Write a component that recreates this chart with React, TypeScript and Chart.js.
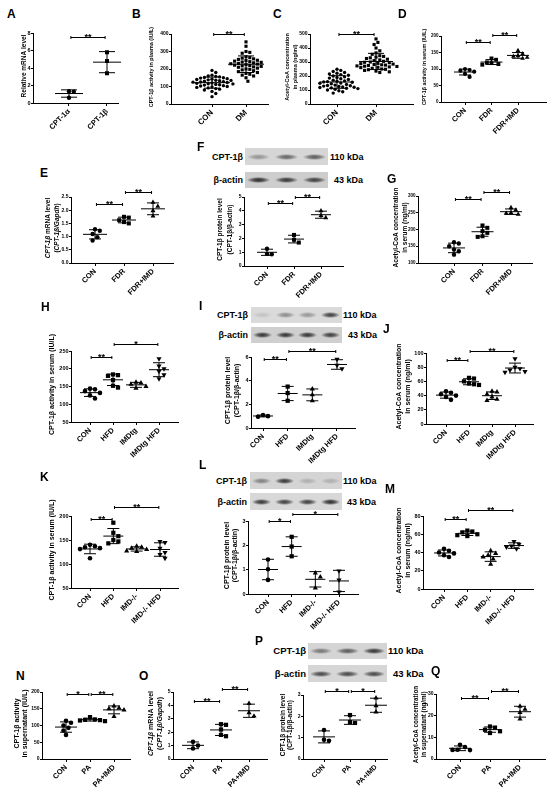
import { useEffect, useRef } from 'react';
import { Chart, registerables } from 'chart.js';

Chart.register(...registerables);

const FONT = '"Liberation Sans", Arial, sans-serif';
Chart.defaults.font.family = FONT;
Chart.defaults.color = '#000';

// ---------- data ----------
const A_LABELS = ['CPT-1α', 'CPT-1β'];
const A_VALUES = [[1.35, 1.3, 0.6], [5.8, 4.8, 3.4]];
const A_SIG = [[0, 1, 7.6, '**']];

const B_LABELS = ['CON', 'DM'];
const B_VALUES = [
  [192, 180, 165, 160, 158, 155, 152, 150, 148, 145, 142, 140, 138, 136, 135, 133, 130, 128, 126, 125,
    123, 120, 118, 116, 115, 112, 110, 108, 105, 103, 100, 97, 95, 92, 88, 85, 80, 72, 60, 42],
  [355, 330, 300, 295, 290, 270, 265, 262, 258, 255, 250, 248, 245, 242, 240, 238, 235, 232, 230, 228,
    225, 222, 220, 218, 215, 212, 210, 205, 200, 198, 195, 190, 185, 180, 175, 170, 165, 160, 150, 130],
];
const B_SIG = [[0, 1, 400, '**']];

const C_LABELS = ['CON', 'DM'];
const C_VALUES = [
  [248, 240, 232, 225, 220, 215, 210, 205, 200, 195, 190, 185, 180, 175, 170, 165, 162, 160, 158, 155,
    150, 148, 145, 140, 135, 132, 130, 128, 125, 122, 120, 118, 115, 112, 110, 105, 100, 95, 88, 78],
  [465, 440, 425, 400, 380, 365, 355, 345, 340, 335, 330, 325, 320, 315, 310, 305, 300, 298, 295, 290,
    288, 285, 282, 280, 278, 275, 272, 270, 268, 265, 262, 260, 255, 250, 248, 245, 240, 235, 230, 225],
];
const C_SIG = [[0, 1, 500, '**']];

const D_LABELS = ['CON', 'FDR', 'FDR+IMD'];
const D_VALUES = [[100, 97, 95, 92, 85, 76], [132, 128, 120, 118, 115, 113], [156, 146, 140, 138, 135, 132]];
const D_SIG = [[0, 1, 182, '**'], [1, 2, 203, '**']];

const E_LABELS = ['CON', 'FDR', 'FDR+IMD'];
const E_VALUES = [[1.28, 1.22, 1.1, 0.98, 0.85], [1.75, 1.72, 1.62, 1.55, 1.5], [2.3, 2.15, 1.98, 1.78]];
const E_SIG = [[0, 1, 2.23, '**'], [1, 2, 2.69, '**']];

const F_LABELS = ['CON', 'FDR', 'FDR+IMD'];
const F_VALUES = [[1.25, 0.88, 0.85], [2.25, 1.9, 1.7], [4.0, 3.65, 3.5]];
const F_SIG = [[0, 1, 4.57, '**'], [1, 2, 5.0, '**']];

const G_LABELS = ['CON', 'FDR', 'FDR+IMD'];
const G_VALUES = [[162, 158, 150, 140, 135, 125], [212, 205, 195, 190, 180, 178], [265, 258, 250, 248, 245]];
const G_SIG = [[0, 1, 291, '**'], [1, 2, 312, '**']];

const H_LABELS = ['CON', 'HFD', 'IMDtg', 'IMDtg HFD'];
const H_VALUES = [[144, 142, 137, 132, 125, 116], [184, 182, 180, 168, 152, 147], [162, 160, 156, 150, 145], [228, 208, 200, 193, 183, 172]];
const H_SIG = [[0, 1, 233, '**'], [1, 3, 270, '*']];

const I_LABELS = ['CON', 'HFD', 'IMDtg', 'IMDtg HFD'];
const I_VALUES = [[1.1, 1.0, 0.95], [3.5, 2.95, 2.3], [3.3, 2.8, 2.3], [5.8, 5.3, 5.0]];
const I_SIG = [[0, 1, 5.83, '**'], [1, 3, 6.5, '**']];

const J_LABELS = ['CON', 'HFD', 'IMDtg', 'IMDtg HFD'];
const J_VALUES = [[46, 44, 42, 40, 38, 34], [65, 64, 60, 57, 56, 55], [46, 45, 42, 38, 35, 33], [92, 80, 78, 76, 74, 73]];
const J_SIG = [[0, 1, 90, '**'], [1, 3, 103, '**']];

const K_LABELS = ['CON', 'HFD', 'IMD-/-', 'IMD-/- HFD'];
const K_VALUES = [[140, 137, 135, 133, 131, 112], [186, 165, 158, 150, 147, 143], [137, 135, 133, 130, 127, 126], [147, 145, 133, 124, 120, 112]];
const K_SIG = [[0, 1, 194, '**'], [1, 3, 219, '**']];

const L_LABELS = ['CON', 'HFD', 'IMD-/-', 'IMD-/- HFD'];
const L_VALUES = [[1.42, 1.02, 0.58], [2.35, 1.95, 1.55], [0.86, 0.7, 0.25], [0.95, 0.58, 0.08]];
const L_SIG = [[0, 1, 3.0, '*'], [1, 3, 3.3, '*']];

const M_LABELS = ['CON', 'HFD', 'IMD-/-', 'IMD-/- HFD'];
const M_VALUES = [[44, 42, 40, 39, 37, 35], [64, 63, 62, 60, 59, 58], [42, 39, 37, 35, 33, 27], [52, 49, 47, 46, 44]];
const M_SIG = [[0, 1, 76.7, '**'], [1, 3, 86.6, '**']];

const N_LABELS = ['CON', 'PA', 'PA+IMD'];
const N_VALUES = [[114, 108, 100, 93, 85, 72], [125, 118, 117, 116, 115, 113], [158, 152, 150, 146, 127]];
const N_SIG = [[0, 1, 194, '*'], [1, 2, 194, '**']];

const O_LABELS = ['CON', 'PA', 'PA+IMD'];
const O_VALUES = [[1.28, 1.0, 0.78], [2.6, 2.55, 2.2, 1.8, 1.7], [4.15, 3.45, 3.2]];
const O_SIG = [[0, 1, 4.33, '**'], [1, 2, 5.2, '**']];

const P_LABELS = ['CON', 'PA', 'PA+IMD'];
const P_VALUES = [[1.36, 0.9, 0.85], [2.06, 1.73, 1.69], [2.86, 2.5, 2.2]];
const P_SIG = [[0, 1, 3.19, '*'], [1, 2, 3.19, '*']];

const Q_LABELS = ['CON', 'PA', 'PA+IMD'];
const Q_VALUES = [[6.6, 5.5, 4.3, 4.2, 4.1], [15, 14.5, 13.5, 12.8, 12], [24.3, 23, 21.5, 18.5]];
const Q_SIG = [[0, 1, 28.2, '**'], [1, 2, 31.4, '**']];

// ---------- layout ----------
type Seg = string | { i: string };
type PanelCfg = {
  letter: string; lx: number; ly: number;
  labels: string[]; values: number[][]; sig: any[];
  x0: number; x1: number; yTop: number; yBot: number; c0: number; c1: number;
  yMin: number; yMax: number; yStep: number; dec?: number;
  title: Seg[][]; tx: number[]; ts: number;
  r: number; mh: number; ch: number; fs: number; ls: number;
};

const T_ACT_SERUM: Seg[][] = [['CPT-1β activity in serum (IU/L)']];
const T_PROT: Seg[][] = [['CPT-1β protein level'], ['(CPT-1β/β-actin)']];
const T_MRNA: Seg[][] = [[{ i: 'CPT-1β' }, ' mRNA level'], ['(', { i: 'CPT-1β/Gapdh' }, ')']];
const T_ACoA_SERUM: Seg[][] = [['Acetyl-CoA concentration'], ['in serum (ng/ml)']];

const PANELS: PanelCfg[] = [
  { letter: 'A', lx: 7, ly: 8, labels: A_LABELS, values: A_VALUES, sig: A_SIG, x0: 33, x1: 118, yTop: 33, yBot: 103, c0: 69, c1: 107,
    yMin: 0, yMax: 8, yStep: 2, title: [['Relative mRNA level']], tx: [24], ts: 6.5, r: 2.2, mh: 14, ch: 8, fs: 5.5, ls: 7.5 },
  { letter: 'B', lx: 132, ly: 8, labels: B_LABELS, values: B_VALUES, sig: B_SIG, x0: 171, x1: 268, yTop: 34, yBot: 104, c0: 212, c1: 246,
    yMin: 0, yMax: 400, yStep: 100, title: [['CPT-1β activity in plasma (IU/L)']], tx: [152], ts: 5.4, r: 1.7, mh: 18, ch: 8, fs: 5, ls: 8 },
  { letter: 'C', lx: 273, ly: 8, labels: C_LABELS, values: C_VALUES, sig: C_SIG, x0: 310, x1: 413, yTop: 34, yBot: 104, c0: 337, c1: 376,
    yMin: 0, yMax: 500, yStep: 100, title: [['Acetyl-CoA concentration'], ['in plasma (ng/ml)']], tx: [287, 295], ts: 5.5, r: 1.7, mh: 17, ch: 8, fs: 5, ls: 8 },
  { letter: 'D', lx: 398, ly: 8, labels: D_LABELS, values: D_VALUES, sig: D_SIG, x0: 441, x1: 546, yTop: 36, yBot: 102, c0: 465, c1: 518,
    yMin: 0, yMax: 200, yStep: 50, title: T_ACT_SERUM, tx: [425], ts: 5.3, r: 2.1, mh: 11, ch: 6, fs: 4.5, ls: 7.5 },
  { letter: 'E', lx: 40, ly: 167, labels: E_LABELS, values: E_VALUES, sig: E_SIG, x0: 71, x1: 173, yTop: 197, yBot: 263, c0: 95, c1: 153,
    yMin: 0, yMax: 2.5, yStep: 0.5, dec: 1, title: T_MRNA, tx: [48, 57], ts: 6.5, r: 2.2, mh: 12, ch: 6, fs: 5, ls: 7.5 },
  { letter: 'F', lx: 197, ly: 141, labels: F_LABELS, values: F_VALUES, sig: F_SIG, x0: 244, x1: 343, yTop: 197, yBot: 266, c0: 267, c1: 321,
    yMin: 0, yMax: 5, yStep: 1, title: T_PROT, tx: [220, 230], ts: 6.5, r: 2.2, mh: 10, ch: 6, fs: 5, ls: 7.5 },
  { letter: 'G', lx: 387, ly: 173, labels: G_LABELS, values: G_VALUES, sig: G_SIG, x0: 418, x1: 532, yTop: 196, yBot: 263, c0: 454, c1: 511,
    yMin: 100, yMax: 300, yStep: 50, title: T_ACoA_SERUM, tx: [396, 405], ts: 6.5, r: 2.2, mh: 11, ch: 6, fs: 4.5, ls: 7.5 },
  { letter: 'H', lx: 41, ly: 301, labels: H_LABELS, values: H_VALUES, sig: H_SIG, x0: 71, x1: 178, yTop: 351, yBot: 422, c0: 90, c1: 159,
    yMin: 50, yMax: 250, yStep: 50, title: T_ACT_SERUM, tx: [52], ts: 7, r: 2.3, mh: 10, ch: 6, fs: 5.5, ls: 7.5 },
  { letter: 'I', lx: 199, ly: 300, labels: I_LABELS, values: I_VALUES, sig: I_SIG, x0: 251, x1: 355, yTop: 357, yBot: 428, c0: 263, c1: 337,
    yMin: 0, yMax: 6, yStep: 2, title: T_PROT, tx: [228, 237], ts: 7, r: 2.3, mh: 10, ch: 6, fs: 5.5, ls: 7.5 },
  { letter: 'J', lx: 383, ly: 323, labels: J_LABELS, values: J_VALUES, sig: J_SIG, x0: 426, x1: 533, yTop: 353, yBot: 424, c0: 446, c1: 515,
    yMin: 0, yMax: 100, yStep: 20, title: T_ACoA_SERUM, tx: [399, 408], ts: 7, r: 2.3, mh: 10, ch: 6, fs: 5.5, ls: 7.5 },
  { letter: 'K', lx: 40, ly: 471, labels: K_LABELS, values: K_VALUES, sig: K_SIG, x0: 71, x1: 178, yTop: 516, yBot: 588, c0: 90, c1: 160,
    yMin: 50, yMax: 200, yStep: 50, title: T_ACT_SERUM, tx: [52], ts: 7, r: 2.3, mh: 10, ch: 6, fs: 5.5, ls: 7.5 },
  { letter: 'L', lx: 199, ly: 459, labels: L_LABELS, values: L_VALUES, sig: L_SIG, x0: 248, x1: 358, yTop: 521, yBot: 594, c0: 268, c1: 339,
    yMin: 0, yMax: 3, yStep: 1, title: T_PROT, tx: [227, 235], ts: 7, r: 2.3, mh: 10, ch: 6, fs: 5.5, ls: 7.5 },
  { letter: 'M', lx: 385, ly: 483, labels: M_LABELS, values: M_VALUES, sig: M_SIG, x0: 423, x1: 533, yTop: 516, yBot: 589, c0: 444, c1: 514,
    yMin: 0, yMax: 80, yStep: 20, title: T_ACoA_SERUM, tx: [399, 408], ts: 7, r: 2.3, mh: 10, ch: 6, fs: 5.5, ls: 7.5 },
  { letter: 'N', lx: 16, ly: 670, labels: N_LABELS, values: N_VALUES, sig: N_SIG, x0: 42, x1: 130, yTop: 692, yBot: 759, c0: 66, c1: 114,
    yMin: 0, yMax: 200, yStep: 50, title: [['CPT-1β activity'], ['in supernatant (IU/L)']], tx: [17, 25], ts: 7, r: 2.3, mh: 11, ch: 6, fs: 5, ls: 7.5 },
  { letter: 'O', lx: 139, ly: 670, labels: O_LABELS, values: O_VALUES, sig: O_SIG, x0: 173, x1: 267, yTop: 692, yBot: 759, c0: 193, c1: 249,
    yMin: 0, yMax: 5, yStep: 1, title: T_MRNA, tx: [151, 160], ts: 7, r: 2.3, mh: 11, ch: 6, fs: 5, ls: 7.5 },
  { letter: 'P', lx: 255, ly: 635, labels: P_LABELS, values: P_VALUES, sig: P_SIG, x0: 303, x1: 387, yTop: 695, yBot: 759, c0: 324, c1: 376,
    yMin: 0, yMax: 3, yStep: 1, title: T_PROT, tx: [283, 290], ts: 6.5, r: 2.3, mh: 11, ch: 6, fs: 5, ls: 7 },
  { letter: 'Q', lx: 431, ly: 665, labels: Q_LABELS, values: Q_VALUES, sig: Q_SIG, x0: 436, x1: 545, yTop: 694, yBot: 759, c0: 460, c1: 520,
    yMin: 0, yMax: 30, yStep: 10, title: [['Acetyl-CoA concentration'], ['in supernatant (ng/ml)']], tx: [416, 424], ts: 6.3, r: 2.3, mh: 11, ch: 6, fs: 5, ls: 7.5 },
];

type BlotRow = { y: number; h: number; label: string; kx: number; kd: string; bg: string; bands: number[] };
type BlotCfg = { lr: number; bx: number; bw: number; fs: number; rows: BlotRow[] };

const BLOTS: BlotCfg[] = [
  { lr: 243, bx: 245, bw: 83, fs: 9, rows: [
    { y: 148, h: 17, label: 'CPT-1β', kx: 330, kd: '110 kDa', bg: '#d6d6d6', bands: [0.35, 0.6, 0.65] },
    { y: 172, h: 16, label: 'β-actin', kx: 334, kd: '43 kDa', bg: '#cdcdcd', bands: [0.9, 0.85, 0.8] }] },
  { lr: 248, bx: 251, bw: 91, fs: 9, rows: [
    { y: 307, h: 16, label: 'CPT-1β', kx: 343, kd: '110 kDa', bg: '#dadada', bands: [0.12, 0.4, 0.35, 0.8] },
    { y: 327, h: 16, label: 'β-actin', kx: 348, kd: '43 kDa', bg: '#cfcfcf', bands: [0.85, 0.85, 0.85, 0.8] }] },
  { lr: 247, bx: 250, bw: 92, fs: 9, rows: [
    { y: 472, h: 17, label: 'CPT-1β', kx: 343, kd: '110 kDa', bg: '#d4d4d4', bands: [0.45, 0.85, 0.2, 0.2] },
    { y: 493, h: 17, label: 'β-actin', kx: 347, kd: '43 kDa', bg: '#d8d8d8', bands: [0.85, 0.8, 0.8, 0.9] }] },
  { lr: 306, bx: 308, bw: 79, fs: 9.5, rows: [
    { y: 643, h: 16, label: 'CPT-1β', kx: 388, kd: '110 kDa', bg: '#d4d4d4', bands: [0.5, 0.65, 0.85] },
    { y: 665, h: 17, label: 'β-actin', kx: 393, kd: '43 kDa', bg: '#d6d6d6', bands: [0.75, 0.75, 0.75] }] },
];

const SHAPES = ['circle', 'rect', 'triangle', 'triangle'];
const ROT = [0, 0, 0, 180];
const SCALE = [1, 1.3, 1.3, 1.3];

// spread points of one group sideways so they don't sit on top of each other (pixel offsets)
function swarm(vals: number[], pyu: number, r: number): number[] {
  const d = 2 * r + 0.4;
  const order = vals.map((_, i) => i).sort((a, b) => vals[b] - vals[a]);
  const placed: { x: number; y: number }[] = [];
  const out = vals.map(() => 0);
  for (const i of order) {
    const y = vals[i] * pyu;
    let best = 0;
    for (let k = 0; k < 80; k++) {
      const c = (k % 2 ? 1 : -1) * Math.ceil(k / 2) * d * 0.5;
      if (placed.every((q) => Math.hypot(q.x - c, q.y - y) >= d)) { best = c; break; }
    }
    placed.push({ x: best, y });
    out[i] = best;
  }
  return out;
}

function ScatterPanel({ p }: { p: PanelCfg }) {
  const ref = useRef<HTMLCanvasElement>(null);
  const n = p.labels.length;
  const sp = (p.c1 - p.c0) / (n - 1);
  const xMin = (p.x0 - p.c0) / sp;
  const xMax = n - 1 + (p.x1 - p.c1) / sp;
  const left = Math.floor(Math.min(...p.tx) - p.ts - 2);
  const padTop = 30;
  const top = p.yTop - padTop;
  const xH = 50;
  const padRight = 4;
  const width = p.x1 - left + padRight;
  const height = p.yBot - top + xH;
  const yW = p.x0 - left;

  useEffect(() => {
    if (!ref.current) return;
    const pyu = (p.yBot - p.yTop) / (p.yMax - p.yMin);
    const datasets = p.values.map((vals, gi) => {
      const off = swarm(vals, pyu, p.r);
      return {
        data: vals.map((v, k) => ({ x: gi + off[k] / sp, y: v })),
        pointStyle: SHAPES[gi],
        rotation: ROT[gi],
        pointRadius: p.r * SCALE[gi],
        backgroundColor: '#000',
        borderColor: '#000',
        borderWidth: 0,
      };
    });

    const errorBars = {
      id: 'errorBars',
      afterDatasetsDraw(chart: any) {
        const { ctx, scales } = chart;
        ctx.save();
        ctx.strokeStyle = '#000';
        ctx.lineWidth = 1;
        p.values.forEach((vals, gi) => {
          const m = vals.reduce((s, v) => s + v, 0) / vals.length;
          const sd = Math.sqrt(vals.reduce((s, v) => s + (v - m) ** 2, 0) / (vals.length - 1));
          const xc = scales.x.getPixelForValue(gi);
          const ym = scales.y.getPixelForValue(m);
          const yh = scales.y.getPixelForValue(m + sd);
          const yl = scales.y.getPixelForValue(m - sd);
          ctx.beginPath();
          ctx.moveTo(xc - p.mh, ym); ctx.lineTo(xc + p.mh, ym);
          ctx.moveTo(xc, yh); ctx.lineTo(xc, yl);
          ctx.moveTo(xc - p.ch, yh); ctx.lineTo(xc + p.ch, yh);
          ctx.moveTo(xc - p.ch, yl); ctx.lineTo(xc + p.ch, yl);
          ctx.stroke();
        });
        ctx.restore();
      },
    };

    const brackets = {
      id: 'brackets',
      afterDraw(chart: any) {
        const { ctx, scales } = chart;
        ctx.save();
        ctx.strokeStyle = '#000';
        ctx.fillStyle = '#000';
        ctx.lineWidth = 1;
        p.sig.forEach(([a, b, yv, lab]: any) => {
          const xa = scales.x.getPixelForValue(a + 0.05);
          const xb = scales.x.getPixelForValue(b - 0.05);
          const y = Math.round(scales.y.getPixelForValue(yv)) + 0.5;
          ctx.beginPath();
          ctx.moveTo(xa, y); ctx.lineTo(xb, y);
          ctx.moveTo(xa, y - 1.5); ctx.lineTo(xa, y + 1.5);
          ctx.moveTo(xb, y - 1.5); ctx.lineTo(xb, y + 1.5);
          ctx.stroke();
          ctx.font = `bold 9px ${FONT}`;
          ctx.textAlign = 'center';
          ctx.textBaseline = 'alphabetic';
          ctx.fillText(lab, (xa + xb) / 2, y + 2.5);
        });
        ctx.restore();
      },
    };

    const yTitle = {
      id: 'yTitle',
      afterDraw(chart: any) {
        const { ctx, chartArea } = chart;
        const cy = (chartArea.top + chartArea.bottom) / 2 - 2;
        p.title.forEach((line, li) => {
          const segs = line.map((s) => (typeof s === 'string' ? { t: s, it: false } : { t: s.i, it: true }));
          const fontOf = (it: boolean) => `${it ? 'italic ' : ''}bold ${p.ts}px ${FONT}`;
          ctx.save();
          ctx.translate(p.tx[li] - left, cy);
          ctx.rotate(-Math.PI / 2);
          ctx.textBaseline = 'middle';
          ctx.textAlign = 'left';
          ctx.fillStyle = '#000';
          let total = 0;
          segs.forEach((s) => { ctx.font = fontOf(s.it); total += ctx.measureText(s.t).width; });
          let x = -total / 2;
          segs.forEach((s) => { ctx.font = fontOf(s.it); ctx.fillText(s.t, x, 0); x += ctx.measureText(s.t).width; });
          ctx.restore();
        });
      },
    };

    const xGrid = { display: true, drawOnChartArea: false, drawTicks: true, tickLength: 3, color: '#000', lineWidth: 1 };
    const yGrid = { display: true, drawOnChartArea: false, drawTicks: true, tickLength: 2, color: '#000', lineWidth: 1 };

    const chart = new Chart(ref.current, {
      type: 'scatter',
      data: { datasets },
      options: {
        responsive: false,
        animation: false,
        events: [],
        layout: { padding: { top: padTop, right: padRight, left: 0, bottom: 0 } },
        plugins: { legend: { display: false }, tooltip: { enabled: false } },
        scales: {
          x: {
            type: 'linear',
            min: xMin,
            max: xMax,
            afterBuildTicks: (s: any) => { s.ticks = p.labels.map((_, i) => ({ value: i })); },
            afterFit: (s: any) => { s.height = xH; },
            ticks: {
              autoSkip: false,
              minRotation: 45,
              maxRotation: 45,
              padding: 1,
              color: '#000',
              font: { family: FONT, size: p.ls, weight: 'bold' },
              callback: (v: any) => p.labels[Math.round(v)] ?? '',
            },
            grid: xGrid,
            border: { display: true, color: '#000', width: 1 },
          },
          y: {
            min: p.yMin,
            max: p.yMax,
            afterBuildTicks: (s: any) => {
              const t = [];
              for (let v = p.yMin; v <= p.yMax + 1e-9; v += p.yStep) t.push({ value: +v.toFixed(6) });
              s.ticks = t;
            },
            afterFit: (s: any) => { s.width = yW; },
            ticks: {
              padding: 0.5,
              color: '#000',
              font: { family: FONT, size: p.fs, weight: 'bold' },
              callback: (v: any) => Number(v).toFixed(p.dec ?? 0),
            },
            grid: yGrid,
            border: { display: true, color: '#000', width: 1 },
          },
        },
      } as any,
      plugins: [errorBars, brackets, yTitle],
    });

    return () => {
      chart.destroy();
    };
  }, [p]);

  return (
    <>
      <div style={{ position: 'absolute', left: p.lx, top: p.ly, fontSize: 12, fontWeight: 'bold', lineHeight: 1 }}>{p.letter}</div>
      <canvas ref={ref} width={width} height={height}
        style={{ position: 'absolute', left, top, width, height }} />
    </>
  );
}

function Blot({ b }: { b: BlotCfg }) {
  return (
    <>
      {b.rows.map((row, ri) => {
        const lw = b.bw / row.bands.length;
        const cy = row.y + row.h / 2;
        return (
          <div key={ri}>
            <div style={{ position: 'absolute', left: b.lr - 60, width: 60, top: cy - 6, height: 12, lineHeight: '12px',
              textAlign: 'right', fontWeight: 'bold', fontSize: b.fs }}>{row.label}</div>
            <div style={{ position: 'absolute', left: b.bx, top: row.y, width: b.bw, height: row.h, background: row.bg, overflow: 'hidden' }}>
              {row.bands.map((a, li) => (
                <div key={li} style={{
                  position: 'absolute', left: li * lw + lw * 0.08, width: lw * 0.84, top: row.h / 2 - 3, height: 6,
                  background: `radial-gradient(ellipse at center, rgba(20,20,20,${a}) 0%, rgba(20,20,20,${a * 0.7}) 35%, rgba(20,20,20,0) 72%)`,
                }} />
              ))}
            </div>
            <div style={{ position: 'absolute', left: row.kx, top: cy - 6, height: 12, lineHeight: '12px', whiteSpace: 'nowrap',
              fontWeight: 'bold', fontSize: b.fs }}>{row.kd}</div>
          </div>
        );
      })}
    </>
  );
}

export default function App() {
  return (
    <div style={{ position: 'absolute', left: 0, top: 0, width: 550, height: 791, background: '#fff', overflow: 'hidden',
      fontFamily: FONT, color: '#000' }}>
      {BLOTS.map((b, i) => <Blot key={i} b={b} />)}
      {PANELS.map((p) => <ScatterPanel key={p.letter} p={p} />)}
    </div>
  );
}
